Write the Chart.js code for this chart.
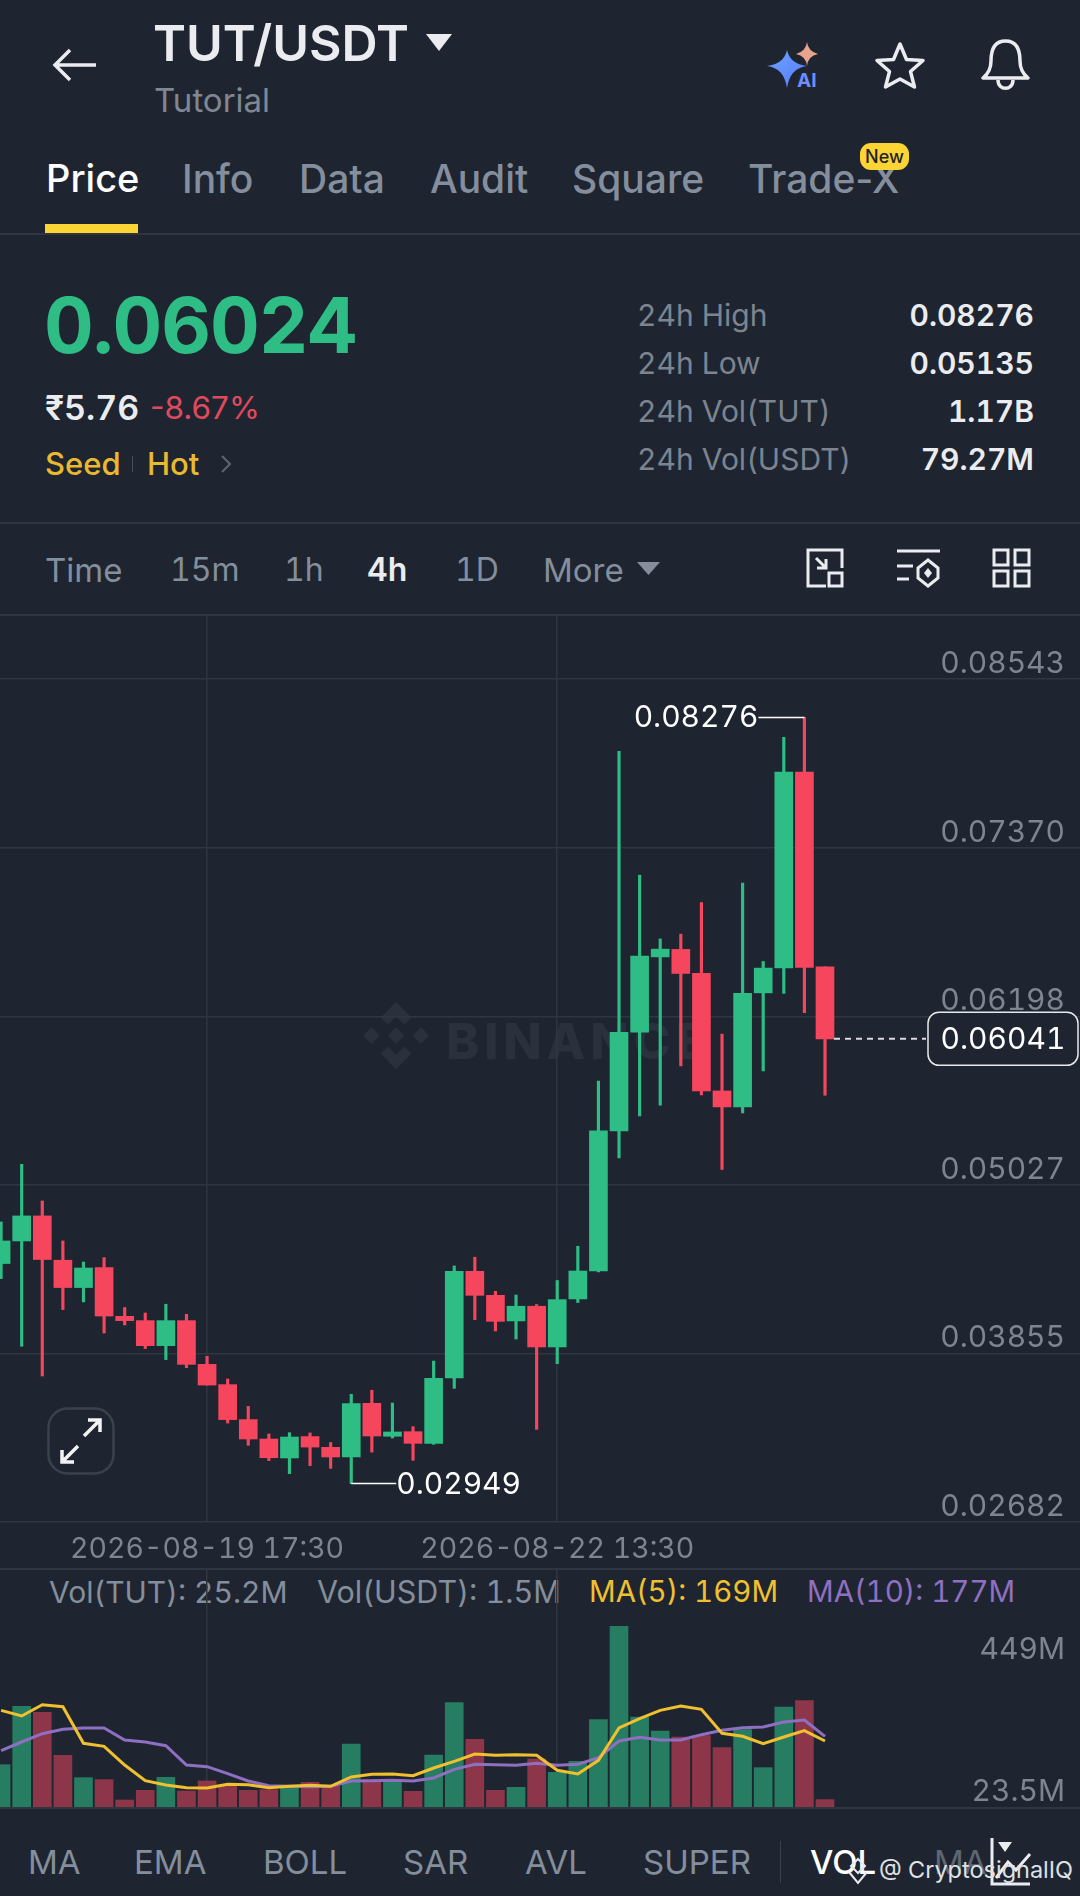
<!DOCTYPE html>
<html>
<head>
<meta charset="utf-8">
<script src="https://cdn.jsdelivr.net/npm/chart.js@4"></script>
<style>
html,body{margin:0;padding:0;width:1080px;height:1896px;overflow:hidden;background:#1e2530;font-family:Inter,'Noto Sans',sans-serif;font-variant-numeric:tabular-nums;}
.t{position:absolute;white-space:nowrap;transform:translateY(-50%);line-height:1;}
.g{color:#848e9c}
.hl{position:absolute;left:0;width:1080px;height:2px;background:#2f3640}
svg{position:absolute;overflow:visible}
canvas{position:absolute;left:0}
</style>
</head>
<body>
<!-- header -->
<svg style="left:52px;top:48px" width="46" height="34" fill="none" stroke="#eaecef" stroke-width="3.5"><path d="M18 2 L3 17 L18 32 M3 17 H44"/></svg>
<div class="t" style="left:153px;top:43px;font-size:50px;font-weight:600;color:#eaecef">TUT/USDT</div>
<svg style="left:426px;top:34px" width="26" height="17"><path d="M0 0H26L13 17Z" fill="#eaecef"/></svg>
<div class="t g" style="left:154px;top:100px;font-size:33px;color:#7f8792">Tutorial</div>
<svg style="left:768px;top:42px" width="54" height="46"><defs><linearGradient id="ai" x1="0" y1="0" x2="1" y2="1"><stop offset="0" stop-color="#6aa7ff"/><stop offset="1" stop-color="#5a78ff"/></linearGradient></defs><path d="M19 8 Q22 22 39 24 Q22 26 19 46 Q16 26 -1 24 Q16 22 19 8Z" fill="url(#ai)"/><path d="M39 0 Q40 9 50 12 Q40 14 39 24 Q38 14 28 12 Q38 9 39 0Z" fill="#e8a38f"/><text x="29" y="45" font-family="Inter" font-weight="700" font-size="19" fill="#6f8dff">AI</text></svg>
<svg style="left:875px;top:42px" width="50" height="47" fill="none" stroke="#eaecef" stroke-width="3.5" stroke-linejoin="round"><path d="M25 2 L31.5 17.5 L48 18.5 L35.5 29.5 L39.5 45 L25 37 L10.5 45 L14.5 29.5 L2 18.5 L18.5 17.5Z"/></svg>
<svg style="left:981px;top:39px" width="49" height="52" fill="none" stroke="#eaecef" stroke-width="3.5" stroke-linejoin="round"><path d="M24.5 2 C13 2 10 12 10 22 C10 30 7 35 2 39 H47 C42 35 39 30 39 22 C39 12 36 2 24.5 2Z"/><path d="M17 41 C17 52 32 52 32 41"/></svg>

<div class="t" style="left:46px;top:178px;font-size:38px;font-weight:500;color:#fff">Price</div>
<div class="t g" style="left:182px;top:178px;font-size:39px;font-weight:500">Info</div>
<div class="t g" style="left:299px;top:178px;font-size:39px;font-weight:500">Data</div>
<div class="t g" style="left:430px;top:178px;font-size:39px;font-weight:500">Audit</div>
<div class="t g" style="left:572px;top:178px;font-size:39px;font-weight:500">Square</div>
<div class="t g" style="left:748px;top:178px;font-size:39px;font-weight:500;font-variant-numeric:normal;font-feature-settings:'tnum' 0">Trade-X</div>
<div style="position:absolute;left:860px;top:143px;width:49px;height:27px;background:#fcd535;border-radius:11px;text-align:center;font-size:18px;line-height:27px;font-weight:500;color:#1e2329">New</div>
<div style="position:absolute;left:45px;top:224px;width:93px;height:9px;background:#fcd535"></div>
<div class="hl" style="top:233px"></div>

<!-- price block -->
<div class="t" style="left:44px;top:325px;font-size:77px;font-weight:700;color:#2ebd85;letter-spacing:-1px">0.06024</div>
<div class="t" style="left:45px;top:408px;font-size:34px;font-weight:600;color:#eaecef">₹5.76</div>
<div class="t" style="left:150px;top:408px;font-size:31.5px;color:#e04a5c;font-variant-numeric:normal;font-feature-settings:'tnum' 0">-8.67%</div>
<div class="t" style="left:45px;top:463px;font-size:31px;font-weight:500;color:#e9b92f">Seed</div>
<div style="position:absolute;left:132px;top:456px;width:1px;height:16px;background:#474d57"></div>
<div class="t" style="left:147px;top:463px;font-size:31px;font-weight:500;color:#e9b92f">Hot</div>
<svg style="left:220px;top:455px" width="12" height="18" fill="none" stroke="#5e6673" stroke-width="2"><path d="M2 1 L10 9 L2 17"/></svg>

<div class="t" style="left:637px;top:315px;font-size:30px;color:#7b8490">24h High</div>
<div class="t" style="left:637px;top:363px;font-size:30px;color:#7b8490">24h Low</div>
<div class="t" style="left:637px;top:411px;font-size:30px;color:#7b8490">24h Vol(TUT)</div>
<div class="t" style="left:637px;top:459px;font-size:30px;color:#7b8490">24h Vol(USDT)</div>
<div class="t" style="right:46px;top:315px;font-size:30px;font-weight:600;color:#eaecef">0.08276</div>
<div class="t" style="right:46px;top:363px;font-size:30px;font-weight:600;color:#eaecef">0.05135</div>
<div class="t" style="right:46px;top:411px;font-size:30px;font-weight:600;color:#eaecef">1.17B</div>
<div class="t" style="right:46px;top:459px;font-size:30px;font-weight:600;color:#eaecef">79.27M</div>
<div class="hl" style="top:522px"></div>

<!-- intervals -->
<div class="t g" style="left:45px;top:570px;font-size:33px">Time</div>
<div class="t g" style="left:170px;top:570px;font-size:32px">15m</div>
<div class="t g" style="left:284px;top:570px;font-size:32px">1h</div>
<div class="t" style="left:367px;top:570px;font-size:32px;font-weight:600;color:#eaecef">4h</div>
<div class="t g" style="left:455px;top:570px;font-size:32px">1D</div>
<div class="t g" style="left:543px;top:570px;font-size:33px">More</div>
<svg style="left:637px;top:562px" width="23" height="13"><path d="M0 0H23L11.5 13Z" fill="#848e9c"/></svg>
<svg style="left:806px;top:548px" width="38" height="40" fill="none" stroke="#eaecef" stroke-width="3"><path d="M20 38 H2 V2 H36 V20 M10 10 L20 20 M20 11 V20 H11" /><rect x="23" y="25" width="13" height="13"/></svg>
<svg style="left:897px;top:548px" width="43" height="40" fill="none" stroke="#eaecef" stroke-width="3"><path d="M0 3 H43 M0 18 H16 M0 31 H12"/><path d="M31 12 L41 20 V30 L31 38 L21 30 V20Z"/><path d="M31 20 L35 25 L31 30 L27 25Z" fill="#eaecef" stroke="none"/></svg>
<svg style="left:992px;top:548px" width="39" height="40" fill="none" stroke="#eaecef" stroke-width="3"><rect x="2" y="2" width="14" height="15"/><rect x="23" y="2" width="14" height="15"/><rect x="2" y="23" width="14" height="15"/><rect x="23" y="23" width="14" height="15"/></svg>
<div class="hl" style="top:614px"></div>

<!-- watermark behind the chart -->
<svg style="left:362px;top:1003px" width="68" height="69" fill="#2a313c"><path d="M34 0 L47 13 L41 19 L34 12 L27 19 L21 13Z M13 21 L20 28 L13 35 L6 28 Z M55 21 L62 28 L55 35 L48 28Z M34 21 L41 28 L34 35 L27 28Z M21 43 L27 37 L34 44 L41 37 L47 43 L34 56Z" transform="translate(-6,-1) scale(1.18,1.2)"/></svg>
<div class="t" style="left:446px;top:1041px;font-size:50px;font-weight:800;color:#2a313c;letter-spacing:5px">BINANCE</div>

<canvas id="priceChart" width="1080" height="954" style="top:615px;width:1080px;height:954px"></canvas>

<div class="hl" style="top:1568px"></div>
<div class="t g" style="left:49px;top:1592px;font-size:30px">Vol(TUT): 25.2M</div>
<div class="t g" style="left:317px;top:1592px;font-size:30.5px">Vol(USDT): 1.5M</div>
<div class="t" style="left:589px;top:1592px;font-size:29.5px;color:#f0c02e">MA(5): 169M</div>
<div class="t" style="left:807px;top:1592px;font-size:29.5px;color:#8e6fc1">MA(10): 177M</div>

<canvas id="volumeChart" width="1080" height="240" style="top:1568px;width:1080px;height:240px"></canvas>
<div class="hl" style="top:1807px"></div>

<!-- expand button -->
<svg style="left:47px;top:1407px" width="68" height="68" fill="none"><rect x="1.5" y="1.5" width="65" height="65" rx="19" stroke="#3a414c" stroke-width="2.5"/><path d="M37 29 L53 13 M41 13 H53 V25 M31 39 L15 55 M15 43 V55 H27" stroke="#f2f3f5" stroke-width="3.5"/></svg>

<!-- bottom tabs -->
<div class="t g" style="left:28px;top:1862px;font-size:33px">MA</div>
<div class="t g" style="left:134px;top:1862px;font-size:33px">EMA</div>
<div class="t g" style="left:263px;top:1862px;font-size:33px">BOLL</div>
<div class="t g" style="left:403px;top:1862px;font-size:33px">SAR</div>
<div class="t g" style="left:525px;top:1862px;font-size:33px">AVL</div>
<div class="t g" style="left:643px;top:1862px;font-size:33px">SUPER</div>
<div style="position:absolute;left:780px;top:1841px;width:1px;height:42px;background:#3a414c"></div>
<div class="t" style="left:810px;top:1862px;font-size:33px;font-weight:500;color:#fff">VOL</div>
<div class="t" style="left:934px;top:1862px;font-size:33px;color:#5e6673">MA</div>
<svg style="left:990px;top:1838px" width="42" height="50" fill="none" stroke="#eaecef" stroke-width="3"><path d="M2 0 V46 H40 M6 40 L18 24 L26 32 L40 16"/><path d="M8 4 H22 L15 14Z" fill="#eaecef" stroke="none"/></svg>
<svg style="left:846px;top:1858px" width="24" height="26" fill="none" stroke="#e8eaec" stroke-width="2"><path d="M12 1 L19 8 L12 15 L5 8Z M3 14 L12 25 L21 14"/></svg>
<div class="t" style="left:879px;top:1870px;font-size:23.5px;color:#dfe1e4">@ CryptosignalIQ</div>

<script>
// ---------- data ----------
const categories = [
 "2026-08-18 01:30","2026-08-18 05:30","2026-08-18 09:30","2026-08-18 13:30","2026-08-18 17:30","2026-08-18 21:30",
 "2026-08-19 01:30","2026-08-19 05:30","2026-08-19 09:30","2026-08-19 13:30","2026-08-19 17:30","2026-08-19 21:30",
 "2026-08-20 01:30","2026-08-20 05:30","2026-08-20 09:30","2026-08-20 13:30","2026-08-20 17:30","2026-08-20 21:30",
 "2026-08-21 01:30","2026-08-21 05:30","2026-08-21 09:30","2026-08-21 13:30","2026-08-21 17:30","2026-08-21 21:30",
 "2026-08-22 01:30","2026-08-22 05:30","2026-08-22 09:30","2026-08-22 13:30","2026-08-22 17:30","2026-08-22 21:30",
 "2026-08-23 01:30","2026-08-23 05:30","2026-08-23 09:30","2026-08-23 13:30","2026-08-23 17:30","2026-08-23 21:30",
 "2026-08-24 01:30","2026-08-24 05:30","2026-08-24 09:30","2026-08-24 13:30","2026-08-24 17:30"];
const opens  = [.04479,.04636,.04810,.04502,.04312,.04451,.04112,.04082,.03908,.04082,.03778,.03637,.03394,.03259,.03127,.03276,.03201,.03134,.03507,.03278,.03310,.03229,.03683,.04425,.04258,.04080,.04182,.03899,.04233,.04427,.05401,.06087,.06611,.06663,.06496,.05679,.05568,.06361,.06535,.07896,.06542];
const highs  = [.04768,.05169,.04914,.04636,.04490,.04520,.04173,.04135,.04196,.04126,.03834,.03676,.03486,.03294,.03303,.03301,.03234,.03570,.03598,.03509,.03345,.03801,.04462,.04523,.04286,.04260,.04194,.04361,.04599,.05747,.08040,.07179,.06736,.06769,.06989,.06074,.07124,.06579,.08137,.08276,.06542];
const lows   = [.04374,.03904,.03697,.04159,.04212,.03996,.04052,.03888,.03811,.03755,.03634,.03370,.03215,.03109,.03018,.03074,.03055,.02949,.03168,.03266,.03111,.03222,.03611,.04089,.04010,.03954,.03326,.03783,.04208,.04420,.05213,.05505,.05580,.05853,.05651,.05133,.05526,.05818,.06357,.06224,.05649];
const closes = [.04636,.04810,.04507,.04312,.04448,.04114,.04082,.03908,.04082,.03778,.03634,.03394,.03259,.03129,.03273,.03203,.03134,.03505,.03280,.03308,.03229,.03681,.04425,.04258,.04077,.04182,.03899,.04228,.04427,.05401,.06087,.06616,.06665,.06496,.05679,.05568,.06357,.06533,.07896,.06537,.06041];
const volumes = [130,305,287,158,91,85,24,53,92,51,81,65,53,55,67,77,67,192,85,78,50,159,316,206,53,62,147,107,140,265,545,273,231,213,217,181,235,121,303,322,25.2];
const ma5  = [293,276,310,304,194,185,129,82,69,61,60,71,70,61,65,68,65,93,101,102,97,120,140,162,158,160,158,113,102,143,240,268,293,306,296,224,215,193,213,232,201];
const ma10 = [172,198,223,236,240,240,204,198,187,129,124,103,81,67,65,64,65,81,82,83,81,90,116,131,130,128,134,128,131,151,201,212,204,204,220,233,241,243,258,264,215];
const priceTicks = [0.08543,0.07370,0.06198,0.05027,0.03855,0.02682];
const volumeTicks = [449,23.5];
const volumeTickLabels = ["449M","23.5M"];
const timeTickIndexes = [10,27];
const highLabel = {index:39,value:0.08276,text:"0.08276"};
const lowLabel  = {index:17,value:0.02949,text:"0.02949"};
const lastPrice = {index:40,value:0.06041,text:"0.06041"};

// ---------- styling ----------
const UP='#2ebd85', DOWN='#f6465d', UP_V='#277d61', DOWN_V='#8d3649', GRID='#2f3640', FONT='Inter';
const isUp = opens.map((o,i)=>closes[i]>=o);
const xRange = {min:-0.053,max:52.38};
const pts = arr => arr.map((v,i)=>({x:i,y:v}));
const noPad = s => {s.paddingTop=0;s.paddingBottom=0;s.paddingLeft=0;s.paddingRight=0;};

const priceOverlay = {
  id:'priceOverlay',
  afterDatasetsDraw(c){
    const g=c.ctx,x=c.scales.x,y=c.scales.y;
    g.save();
    g.font='30px '+FONT; g.textBaseline='middle'; g.fillStyle='#fff'; g.strokeStyle='#fff'; g.lineWidth=1.5;
    // high
    let px=x.getPixelForValue(highLabel.index),py=y.getPixelForValue(highLabel.value);
    g.beginPath();g.moveTo(px,py);g.lineTo(px-46,py);g.stroke();
    g.textAlign='right';g.fillText(highLabel.text,px-46,py+1);
    // low
    px=x.getPixelForValue(lowLabel.index);py=y.getPixelForValue(lowLabel.value);
    g.beginPath();g.moveTo(px,py);g.lineTo(px+45,py);g.stroke();
    g.textAlign='left';g.fillText(lowLabel.text,px+45,py+1);
    // last price
    px=x.getPixelForValue(lastPrice.index);py=y.getPixelForValue(lastPrice.value);
    g.setLineDash([6,5]);g.lineWidth=2;g.strokeStyle='#d8dade';
    g.beginPath();g.moveTo(px+9,py);g.lineTo(926,py);g.stroke();g.setLineDash([]);
    g.fillStyle='#1e2530';g.strokeStyle='#e6e8ea';g.lineWidth=1.5;
    g.beginPath();g.roundRect(928,py-26.5,150,53,11);g.fill();g.stroke();
    g.fillStyle='#fff';g.textAlign='center';g.fillText(lastPrice.text,1003,py+1);
    g.restore();
  }
};

new Chart(document.getElementById('priceChart'),{
  type:'bar',
  data:{datasets:[
    {label:'Wick',order:2,grouped:false,barThickness:2.5,
     data:highs.map((h,i)=>({x:i,y:[lows[i],h]})),
     backgroundColor:isUp.map(u=>u?UP:DOWN)},
    {label:'Body',order:1,grouped:false,barThickness:18,minBarLength:2,
     data:opens.map((o,i)=>({x:i,y:[o,closes[i]]})),
     backgroundColor:isUp.map(u=>u?UP:DOWN)}
  ]},
  plugins:[priceOverlay],
  options:{
    responsive:false,animation:false,devicePixelRatio:1,
    layout:{padding:0},
    plugins:{legend:{display:false},tooltip:{enabled:false}},
    scales:{
      x:{type:'linear',offset:false,min:xRange.min,max:xRange.max,
        afterBuildTicks:s=>{s.ticks=timeTickIndexes.map(v=>({value:v}));},
        afterFit:s=>{s.height=47;noPad(s);},
        grid:{offset:false,color:GRID,lineWidth:1.5,drawTicks:false},border:{display:false},
        ticks:{autoSkip:false,maxRotation:0,padding:10,color:'#7d8590',font:{family:FONT,size:28.5},
          callback:v=>categories[v]||''}},
      y:{type:'linear',position:'right',min:0.02682,max:0.08988,
        afterBuildTicks:s=>{s.ticks=priceTicks.map(v=>({value:v}));},
        afterFit:s=>{s.width=0;noPad(s);},
        grid:{color:GRID,lineWidth:1.5,drawTicks:false},border:{display:false},
        ticks:{mirror:true,padding:-15,labelOffset:-15,color:'#7d8590',font:{family:FONT,size:30},
          callback:v=>v.toFixed(5)}}
    }
  }
});

new Chart(document.getElementById('volumeChart'),{
  type:'bar',
  data:{datasets:[
    {type:'bar',label:'Volume',order:3,barThickness:18,data:pts(volumes),
     backgroundColor:isUp.map(u=>u?UP_V:DOWN_V)},
    {type:'line',label:'MA(10)',order:2,data:pts(ma10),borderColor:'#8e6fc1',borderWidth:3,pointRadius:0,tension:0},
    {type:'line',label:'MA(5)',order:1,data:pts(ma5),borderColor:'#f0c02e',borderWidth:3,pointRadius:0,tension:0}
  ]},
  options:{
    responsive:false,animation:false,devicePixelRatio:1,
    layout:{padding:0},
    plugins:{legend:{display:false},tooltip:{enabled:false}},
    scales:{
      x:{type:'linear',offset:false,min:xRange.min,max:xRange.max,
        afterBuildTicks:s=>{s.ticks=timeTickIndexes.map(v=>({value:v}));},
        afterFit:s=>{s.height=0;noPad(s);},
        grid:{offset:false,color:GRID,lineWidth:1.5,drawTicks:false},border:{display:false},
        ticks:{display:false}},
      y:{type:'linear',position:'right',min:0,max:720,
        afterBuildTicks:s=>{s.ticks=volumeTicks.map(v=>({value:v}));},
        afterFit:s=>{s.width=0;noPad(s);},
        grid:{display:false},border:{display:false},
        ticks:{mirror:true,padding:-15,labelOffset:-8,color:'#7d8590',font:{family:FONT,size:30},
          callback:(v,i)=>volumeTickLabels[i]}}
    }
  }
});
</script>
</body>
</html>
